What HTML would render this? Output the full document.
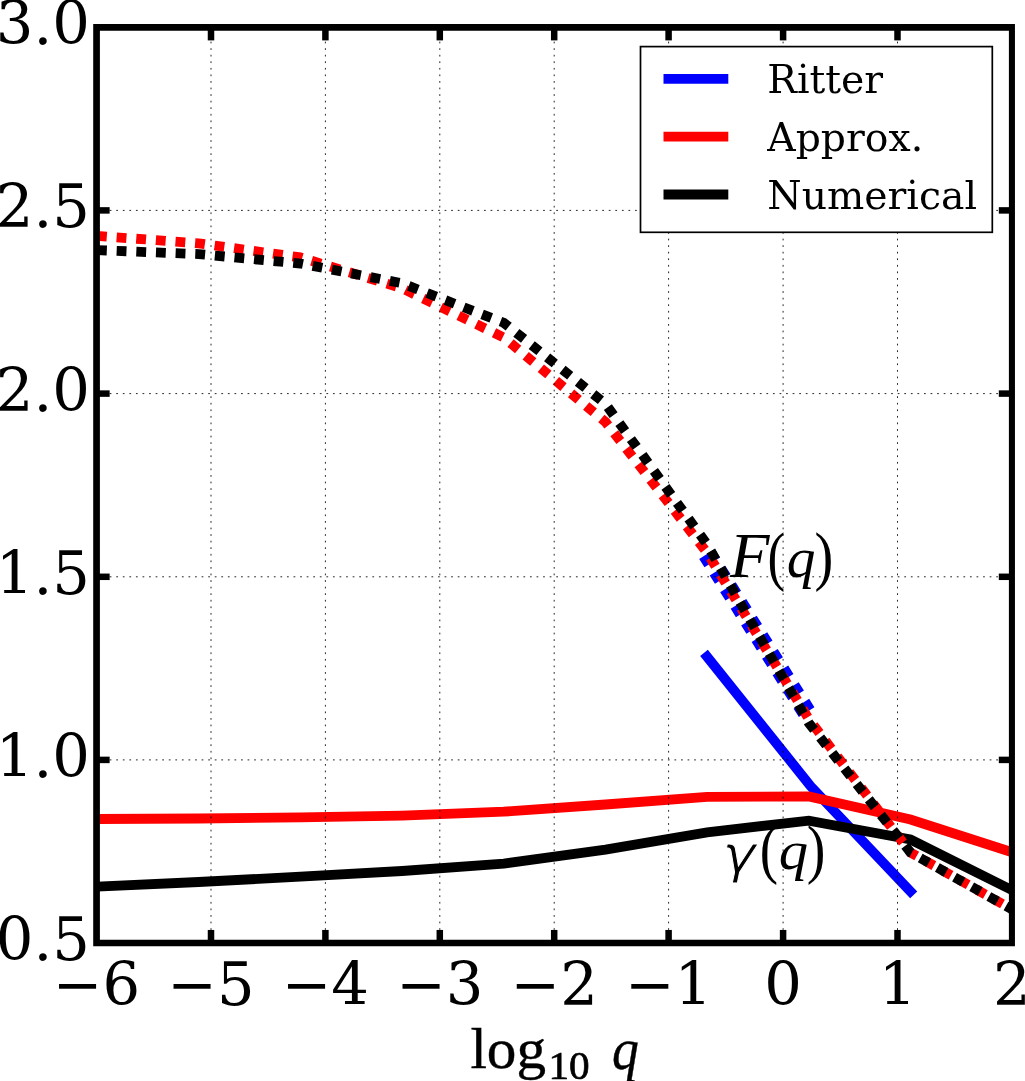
<!DOCTYPE html>
<html lang="en"><head><meta charset="utf-8"><title>F(q) and gamma(q)</title>
<style>html,body{margin:0;padding:0;background:#fff;}body{width:1025px;height:1081px;overflow:hidden;}svg{display:block;}.tk{font-family:"DejaVu Serif","Liberation Serif",serif;font-size:60px;fill:#000;}.lg{font-family:"DejaVu Serif","Liberation Serif",serif;font-size:40px;fill:#000;}.mi{font-family:"Liberation Serif","DejaVu Serif",serif;font-style:italic;fill:#000;}.mr{font-family:"Liberation Serif","DejaVu Serif",serif;fill:#000;}</style></head><body>
<svg width="1025" height="1081" viewBox="0 0 1025 1081">
<rect width="1025" height="1081" fill="#fff"/>
<defs><clipPath id="ax"><rect x="96.55" y="27.3" width="915.35" height="915.75"/></clipPath></defs>
<g clip-path="url(#ax)" fill="none" stroke-linejoin="miter">
<polyline points="704.0,652.9 810.5,786.0 913.7,894.8" stroke="#0000ff" stroke-width="9.8"/>
<polyline points="97.0,819.0 198.7,818.5 300.4,817.4 402.1,815.6 503.8,811.7 605.5,804.5 707.1,796.8 808.8,796.5 910.5,819.5 1012.2,852.3" stroke="#ff0000" stroke-width="9.8"/>
<polyline points="97.0,886.6 198.7,882.0 300.4,876.7 402.1,871.0 503.8,863.6 605.5,849.6 707.1,832.3 808.8,820.6 910.5,839.5 1012.2,890.2" stroke="#000" stroke-width="9.8"/>
<polyline points="707.0,554.0 808.8,715.5" stroke="#0000ff" stroke-width="18.4" stroke-dasharray="9.834 9.834"/>
<polyline points="97.0,235.9 198.7,243.3 300.4,257.4 402.1,288.3 503.8,337.5 605.5,422.0 707.1,552.6 808.8,719.0 910.5,852.5 1012.2,909.5" stroke="#ff0000" stroke-width="9.8" stroke-dasharray="9.834 9.834"/>
<polyline points="97.0,250.1 198.7,254.1 300.4,263.5 402.1,283.3 503.8,322.8 605.5,403.9 707.1,544.4 808.8,723.0 910.5,852.5 1012.2,909.5" stroke="#000" stroke-width="9.8" stroke-dasharray="9.834 9.834"/>
</g>
<g stroke="#000" stroke-width="1.0" stroke-dasharray="1.75 4.817" stroke-opacity="0.85" fill="none">
<line x1="211.0" y1="943.05" x2="211.0" y2="27.3"/>
<line x1="325.4" y1="943.05" x2="325.4" y2="27.3"/>
<line x1="439.8" y1="943.05" x2="439.8" y2="27.3"/>
<line x1="554.2" y1="943.05" x2="554.2" y2="27.3"/>
<line x1="668.6" y1="943.05" x2="668.6" y2="27.3"/>
<line x1="783.1" y1="943.05" x2="783.1" y2="27.3"/>
<line x1="897.5" y1="943.05" x2="897.5" y2="27.3"/>
<line x1="96.55" y1="759.9" x2="1011.9" y2="759.9"/>
<line x1="96.55" y1="576.8" x2="1011.9" y2="576.8"/>
<line x1="96.55" y1="393.6" x2="1011.9" y2="393.6"/>
<line x1="96.55" y1="210.4" x2="1011.9" y2="210.4"/>
</g>
<g stroke="#000" stroke-width="6.5" fill="none">
<line x1="211.0" y1="943.05" x2="211.0" y2="929.9499999999999"/>
<line x1="211.0" y1="27.3" x2="211.0" y2="40.4"/>
<line x1="325.4" y1="943.05" x2="325.4" y2="929.9499999999999"/>
<line x1="325.4" y1="27.3" x2="325.4" y2="40.4"/>
<line x1="439.8" y1="943.05" x2="439.8" y2="929.9499999999999"/>
<line x1="439.8" y1="27.3" x2="439.8" y2="40.4"/>
<line x1="554.2" y1="943.05" x2="554.2" y2="929.9499999999999"/>
<line x1="554.2" y1="27.3" x2="554.2" y2="40.4"/>
<line x1="668.6" y1="943.05" x2="668.6" y2="929.9499999999999"/>
<line x1="668.6" y1="27.3" x2="668.6" y2="40.4"/>
<line x1="783.1" y1="943.05" x2="783.1" y2="929.9499999999999"/>
<line x1="783.1" y1="27.3" x2="783.1" y2="40.4"/>
<line x1="897.5" y1="943.05" x2="897.5" y2="929.9499999999999"/>
<line x1="897.5" y1="27.3" x2="897.5" y2="40.4"/>
<line x1="96.55" y1="759.9" x2="109.64999999999999" y2="759.9"/>
<line x1="1011.9" y1="759.9" x2="998.8" y2="759.9"/>
<line x1="96.55" y1="576.8" x2="109.64999999999999" y2="576.8"/>
<line x1="1011.9" y1="576.8" x2="998.8" y2="576.8"/>
<line x1="96.55" y1="393.6" x2="109.64999999999999" y2="393.6"/>
<line x1="1011.9" y1="393.6" x2="998.8" y2="393.6"/>
<line x1="96.55" y1="210.4" x2="109.64999999999999" y2="210.4"/>
<line x1="1011.9" y1="210.4" x2="998.8" y2="210.4"/>
<path d="M93.2 23.9H1014.95V946.3H93.2Z M99.9 30.7V939.8H1008.9V30.7Z" fill="#000" fill-rule="evenodd" stroke="none"/>
</g>
<text class="tk" transform="translate(96.5,1005.2) scale(0.987,1)" text-anchor="middle">−6</text>
<text class="tk" transform="translate(211.0,1005.2) scale(0.987,1)" text-anchor="middle">−5</text>
<text class="tk" transform="translate(325.4,1005.2) scale(0.987,1)" text-anchor="middle">−4</text>
<text class="tk" transform="translate(439.8,1005.2) scale(0.987,1)" text-anchor="middle">−3</text>
<text class="tk" transform="translate(554.2,1005.2) scale(0.987,1)" text-anchor="middle">−2</text>
<text class="tk" transform="translate(668.6,1005.2) scale(0.987,1)" text-anchor="middle">−1</text>
<text class="tk" transform="translate(783.1,1005.2) scale(0.987,1)" text-anchor="middle">0</text>
<text class="tk" transform="translate(897.5,1005.2) scale(0.987,1)" text-anchor="middle">1</text>
<text class="tk" transform="translate(1011.9,1005.2) scale(0.987,1)" text-anchor="middle">2</text>
<text class="tk" transform="translate(90,960.0) scale(0.987,1)" text-anchor="end">0.5</text>
<text class="tk" transform="translate(90,776.9) scale(0.987,1)" text-anchor="end">1.0</text>
<text class="tk" transform="translate(90,593.8) scale(0.987,1)" text-anchor="end">1.5</text>
<text class="tk" transform="translate(90,410.6) scale(0.987,1)" text-anchor="end">2.0</text>
<text class="tk" transform="translate(90,227.4) scale(0.987,1)" text-anchor="end">2.5</text>
<text class="tk" transform="translate(90,44.3) scale(0.987,1)" text-anchor="end">3.0</text>
<text class="mi" transform="translate(730.02,577.41) scale(1.032,1)" font-size="62.62">F</text>
<text class="mr" transform="translate(767.62,577.84) scale(0.802,1)" font-size="66.00">(</text>
<text class="mi" transform="translate(786.80,576.88) scale(1.009,1)" font-size="56.76">q</text>
<text class="mr" transform="translate(814.60,577.84) scale(0.857,1)" font-size="66.00">)</text>
<text class="mi" transform="translate(722.17,871.86) scale(1.104,1)" font-size="51.13" style="font-family:'DejaVu Sans','Liberation Sans',sans-serif" stroke="#fff" stroke-width="0.9">γ</text>
<text class="mr" transform="translate(759.73,871.16) scale(0.839,1)" font-size="65.44">(</text>
<text class="mi" transform="translate(778.85,869.25) scale(1.066,1)" font-size="55.00">q</text>
<text class="mr" transform="translate(806.72,871.16) scale(0.858,1)" font-size="65.44">)</text>
<text class="mr" transform="translate(470.4,1067.6) scale(1.03,1)" font-size="57.5" stroke="#000" stroke-width="0.4">log</text>
<text class="mr" transform="translate(548.5,1079.3) scale(1.03,1)" font-size="40" stroke="#000" stroke-width="0.7">10</text>
<text class="mi" transform="translate(611.92,1069.18) scale(0.914,1)" font-size="58.68" stroke="#000" stroke-width="0.4">q</text>
<rect x="640.5" y="46.6" width="351.8" height="185.7" fill="#fff" stroke="#000" stroke-width="1.7"/>
<line x1="663.5" y1="78.9" x2="728.3" y2="78.9" stroke="#0000ff" stroke-width="9.8"/>
<text class="lg" transform="translate(767.3,92.9) scale(0.983,1)">Ritter</text>
<line x1="663.5" y1="136.7" x2="728.3" y2="136.7" stroke="#ff0000" stroke-width="9.8"/>
<text class="lg" transform="translate(767.3,150.7) scale(0.983,1)">Approx.</text>
<line x1="663.5" y1="194.5" x2="728.3" y2="194.5" stroke="#000" stroke-width="9.8"/>
<text class="lg" transform="translate(767.3,208.5) scale(0.983,1)">Numerical</text>
</svg></body></html>
